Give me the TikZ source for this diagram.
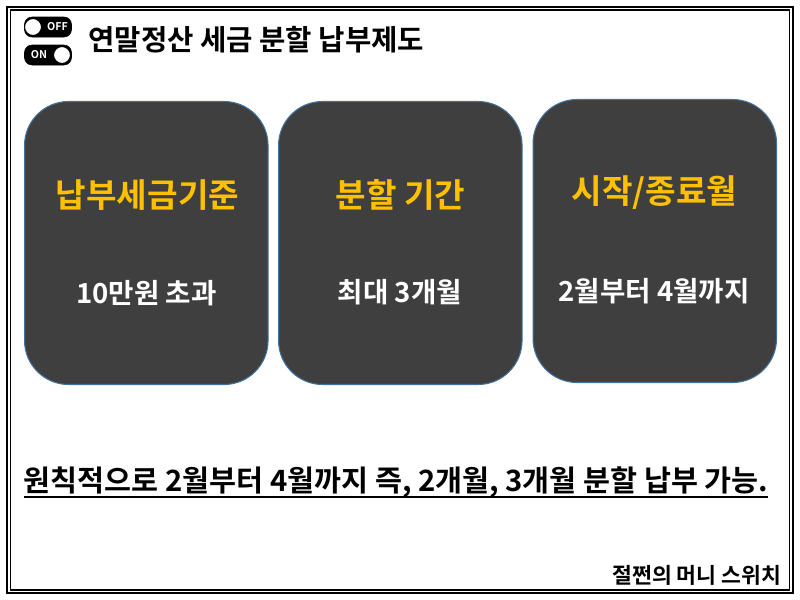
\documentclass[tikz,border=0pt]{standalone}
\usepackage{fontspec}
\setmainfont{Noto Sans CJK KR}[BoldFont={* Bold}]
\definecolor{card}{HTML}{3F3F3F}
\definecolor{cardline}{HTML}{41719C}
\definecolor{gold}{HTML}{FFC000}
\newdimen\pxu \pxu=0.75pt
\tikzset{
  card/.style={draw=cardline,line width=0.8pt,fill=card,rounded corners=33pt,minimum width=243.5\pxu,minimum height=283\pxu,inner sep=0pt},
  head/.style={text=gold,font=\fontsize{24.9}{28}\selectfont\bfseries,inner sep=0pt},
  body/.style={text=white,font=\fontsize{20.7}{24}\selectfont\bfseries,inner sep=0pt},
  switchbody/.style={draw=black,fill=black,rounded corners=7.5\pxu,minimum width=47\pxu,minimum height=20\pxu,inner sep=0pt},
  knob/.style={circle,draw=black,line width=0.8pt,fill=white,minimum size=17\pxu,inner sep=0pt},
  swlabel/.style={text=white,font=\fontsize{8}{9}\selectfont\bfseries,inner sep=0pt}
}
\begin{document}
\begin{tikzpicture}[x=0.75pt,y=-0.75pt]
\useasboundingbox (0,0) rectangle (800,600);
\node[draw=black,line width=1pt,minimum width=786\pxu,minimum height=586\pxu,inner sep=0pt] (outer) at (400,300) {};
\node[draw=black,line width=1pt,minimum width=779\pxu,minimum height=580\pxu,inner sep=0pt] (inner) at (400,300) {};
\node[switchbody] (offbody) at (48,27) {};
\node[knob] (offknob) at (33,27) {};
\node[swlabel] (offlabel) at (57.5,27) {OFF};
\node[switchbody] (onbody) at (48,55) {};
\node[knob] (onknob) at (62,55) {};
\node[swlabel] (onlabel) at (39,55) {ON};
\node[anchor=west,inner sep=0pt,font=\fontsize{21.5}{24}\selectfont\bfseries] (title) at (88,40) {연말정산 세금 분할 납부제도};
\node[card] (c1) at (146.3,243) {};
\node[card] (c2) at (400.3,243) {};
\node[card] (c3) at (654.8,241) {};
\node[head] (h1) at (147.5,195) {납부세금기준};
\node[head] (h2) at (400.5,195) {분할 기간};
\node[head] (h3) at (654.5,193) {시작/종료월};
\node[body] (b1) at (146.5,293) {10만원 초과};
\node[body] (b2) at (400,292) {최대 3개월};
\node[body] (b3) at (654,291) {2월부터 4월까지};
\node[inner sep=0pt,font=\fontsize{22}{26}\selectfont\bfseries] (note) at (396,482) {원칙적으로 2월부터 4월까지 즉, 2개월, 3개월 분할 납부 가능.};
\coordinate (ula) at (24,497);
\coordinate (ulb) at (768,497);
\draw[line width=1.5pt] (ula) -- (ulb);
\node[anchor=east,inner sep=0pt,font=\fontsize{16.2}{20}\selectfont\bfseries] (credit) at (781.5,575) {절쩐의 머니 스위치};
\end{tikzpicture}
\end{document}
